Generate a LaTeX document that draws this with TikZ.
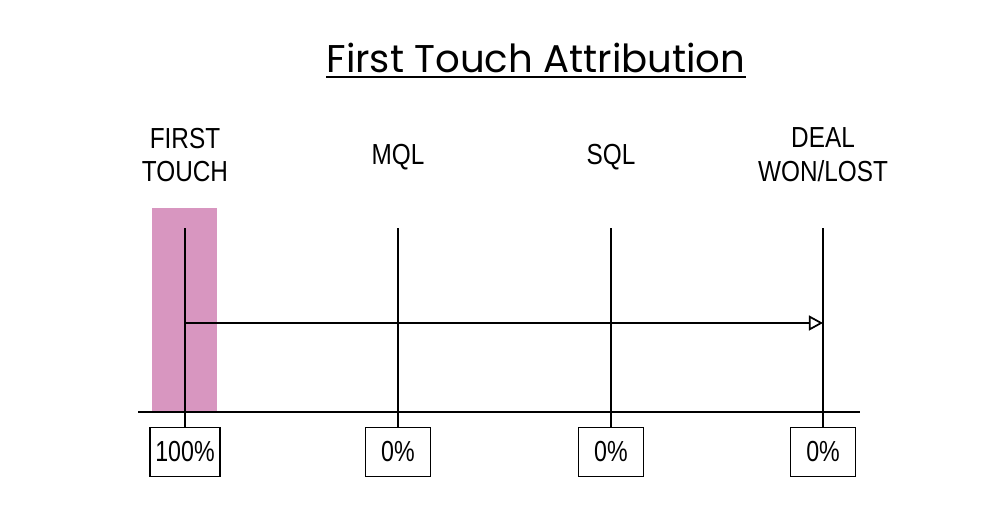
\documentclass[tikz,border=0pt]{standalone}
\usepackage{fontspec}
\usetikzlibrary{arrows.meta}
\newfontfamily\titlefont{Poppins}
\newfontfamily\labelfont[FakeStretch=0.84]{Liberation Sans}
\newfontfamily\pctfont[FakeStretch=0.8]{Liberation Sans}
\definecolor{firstpink}{RGB}{216,150,192}

\begin{document}
\begin{tikzpicture}[x=0.02cm, y=-0.02cm,
  stage/.style={align=center, font=\labelfont\fontsize{16.5}{19.3}\selectfont},
  pct/.style={draw, line width=1.1pt, minimum width=1.3cm, minimum height=0.98cm, inner sep=0pt, font=\pctfont\fontsize{16.5}{19.3}\selectfont},
  wire/.style={line width=1pt}]
\useasboundingbox (0,0) rectangle (1000,524);

\fill[firstpink] (152,208) rectangle (217,412);

\node[font=\titlefont\fontsize{22}{26}\selectfont, inner xsep=0pt] at (536,58) (title) {First Touch Attribution} ;
\draw[line width=0.9pt] (title.south west) ++(0,-2) coordinate (ulstart) -- (ulstart -| title.south east) ;

\node[stage] at (185,155) (ftlab) {FIRST\\TOUCH} ;
\node[stage] at (398,157) (mqllab) {MQL} ;
\node[stage] at (611,157) (sqllab) {SQL} ;
\node[stage] at (823,155) (deallab) {DEAL\\WON/LOST} ;

\coordinate (fttop) at (185,228) ;
\coordinate (mqltop) at (398,228) ;
\coordinate (sqltop) at (611,228) ;
\coordinate (dealtop) at (823,228) ;

\node[pct, minimum width=1.4cm] at (185,452) (ftbox) {100\%} ;
\node[pct] at (398,452) (mqlbox) {0\%} ;
\node[pct] at (611,452) (sqlbox) {0\%} ;
\node[pct] at (823,452) (dealbox) {0\%} ;

\draw[wire] (fttop) -- (ftbox.north) ;
\draw[wire] (mqltop) -- (mqlbox.north) ;
\draw[wire] (sqltop) -- (sqlbox.north) ;
\draw[wire] (dealtop) -- (dealbox.north) ;

\coordinate (axisl) at (138,412) ;
\coordinate (axisr) at (860,412) ;
\draw[wire] (axisl) -- (axisr) ;

\coordinate (arrowstart) at (185,323) ;
\coordinate (arrowend) at (823,323) ;
\draw[wire, -{Triangle[open, length=8pt, width=8.5pt]}] (arrowstart) -- (arrowend) ;
\end{tikzpicture}
\end{document}
